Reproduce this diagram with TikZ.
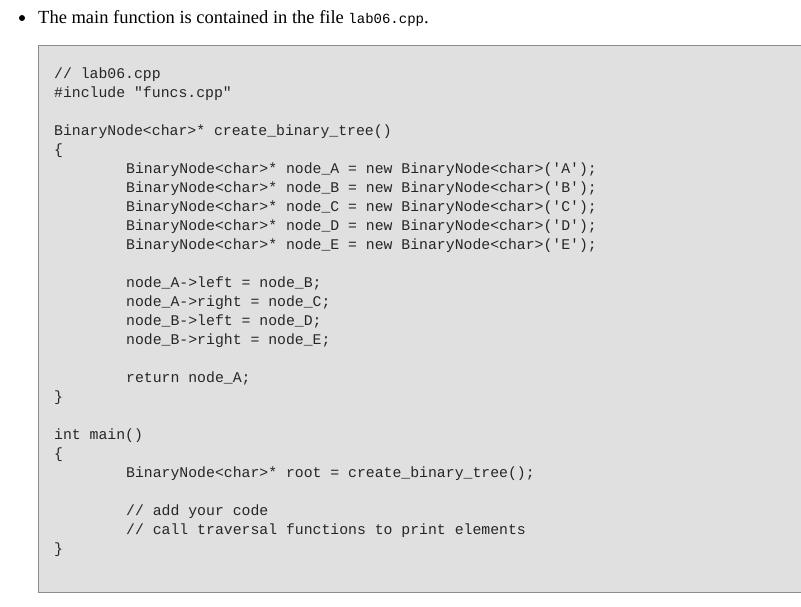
\documentclass[tikz,border=0pt]{standalone}
\usepackage{fontspec}
\setmainfont{Liberation Serif}
\newfontfamily\code{Liberation Mono}[Ligatures=ResetAll]
\def\q{\char39 }
\begin{document}
\begin{tikzpicture}[x=1pt,y=-1pt,
  ln/.style={anchor=west,inner sep=0pt,font=\code\fontsize{14.8}{16}\selectfont,text=black!85}]
\useasboundingbox (0,0) rectangle (801,607);
\fill[white] (0,0) rectangle (801,607);
\fill[black] (22,18) circle (3) coordinate (bul);
\node[anchor=west,inner sep=0pt,font=\fontsize{18.5}{20}\selectfont] (title) at (38,18)
  {The main function is contained in the file {\code\fontsize{14}{16}\selectfont lab06.cpp}.};
\draw[fill=black!12,draw=black!45] (38,45) rectangle (803,592);
\begin{scope}[yshift=-1.5pt]
\node[ln] (l1) at (54,73) {// lab06.cpp};
\node[ln] (l2) at (54,92) {\#include "funcs.cpp"};
\node[ln] (l3) at (54,130) {BinaryNode<char>* create\_binary\_tree()};
\node[ln] (l4) at (54,149) {\{};
\node[ln] (l5) at (126,168) {BinaryNode<char>* node\_A = new BinaryNode<char>(\q A\q);};
\node[ln] (l6) at (126,187) {BinaryNode<char>* node\_B = new BinaryNode<char>(\q B\q);};
\node[ln] (l7) at (126,206) {BinaryNode<char>* node\_C = new BinaryNode<char>(\q C\q);};
\node[ln] (l8) at (126,225) {BinaryNode<char>* node\_D = new BinaryNode<char>(\q D\q);};
\node[ln] (l9) at (126,244) {BinaryNode<char>* node\_E = new BinaryNode<char>(\q E\q);};
\node[ln] (l10) at (126,282) {node\_A->left = node\_B;};
\node[ln] (l11) at (126,301) {node\_A->right = node\_C;};
\node[ln] (l12) at (126,320) {node\_B->left = node\_D;};
\node[ln] (l13) at (126,339) {node\_B->right = node\_E;};
\node[ln] (l14) at (126,377) {return node\_A;};
\node[ln] (l15) at (54,396) {\}};
\node[ln] (l16) at (54,434) {int main()};
\node[ln] (l17) at (54,453) {\{};
\node[ln] (l18) at (126,472) {BinaryNode<char>* root = create\_binary\_tree();};
\node[ln] (l19) at (126,510) {// add your code};
\node[ln] (l20) at (126,529) {// call traversal functions to print elements};
\node[ln] (l21) at (54,548) {\}};
\end{scope}
\end{tikzpicture}
\end{document}
